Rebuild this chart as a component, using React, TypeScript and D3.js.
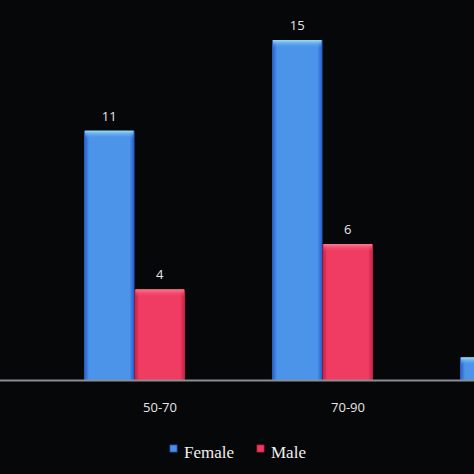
import { useEffect, useRef } from "react";
import * as d3 from "d3";

const categories = ["50-70", "70-90", "90+"];
const seriesNames = ["Female", "Male"];
const female = [11, 15, 1];
const male = [4, 6, 0];
const seriesColors = ["#4a8fe6", "#ee3a5e"];

export default function App() {
  const svgRef = useRef<SVGSVGElement>(null);

  useEffect(() => {
    if (!svgRef.current) return;
    const width = 474;
    const height = 474;
    const svg = d3.select(svgRef.current);
    svg.selectAll("*").remove();
    svg.attr("viewBox", `0 0 ${width} ${height}`);

    svg.append("rect").attr("width", width).attr("height", height).attr("fill", "#060708");

    const defs = svg.append("defs");
    const shades = [
      { edge: "#2458c4", mid: "#4c93ea", top: "#9fe0f2" },
      { edge: "#c21e44", mid: "#f03c62", top: "#ff7a92" },
    ];
    shades.forEach((s, i) => {
      const g = defs.append("linearGradient").attr("id", `side${i}`).attr("x1", 0).attr("x2", 1).attr("y1", 0).attr("y2", 0);
      g.append("stop").attr("offset", "0%").attr("stop-color", s.edge);
      g.append("stop").attr("offset", "10%").attr("stop-color", s.mid);
      g.append("stop").attr("offset", "90%").attr("stop-color", s.mid);
      g.append("stop").attr("offset", "100%").attr("stop-color", s.edge);
      const t = defs.append("linearGradient").attr("id", `top${i}`).attr("x1", 0).attr("x2", 0).attr("y1", 0).attr("y2", 1);
      t.append("stop").attr("offset", "0%").attr("stop-color", s.top);
      t.append("stop").attr("offset", "100%").attr("stop-color", s.mid).attr("stop-opacity", 0);
    });

    const baseline = 380;
    const x = d3.scaleBand().domain(categories).range([66, 66 + 188 * categories.length]).padding(0);
    const inner = d3.scaleBand().domain(seriesNames).range([18, 119]).padding(0);
    const y = d3.scaleLinear().domain([0, 15]).range([baseline, 40]);

    const values = [female, male];

    seriesNames.forEach((name, si) => {
      categories.forEach((cat, ci) => {
        const v = values[si][ci];
        if (!v) return;
        const bx = x(cat)! + inner(name)!;
        const bw = inner.bandwidth();
        const by = y(v);
        const bh = baseline - by;
        svg.append("rect").attr("x", bx).attr("y", by).attr("width", bw).attr("height", bh)
          .attr("fill", `url(#side${si})`);
        svg.append("rect").attr("x", bx + 1).attr("y", by).attr("width", bw - 2).attr("height", Math.min(8, bh))
          .attr("fill", `url(#top${si})`);
        // labels of bars cut off by the picture's right edge are not drawn
        if (bx + bw / 2 + 10 > width) return;
        svg.append("text")
          .attr("x", bx + bw / 2)
          .attr("y", by - 10)
          .attr("text-anchor", "middle")
          .attr("font-family", "'Open Sans', sans-serif")
          .attr("font-size", 13)
          .attr("fill", "#e6e6e6")
          .text(v);
      });
    });

    // axis line
    svg.append("line").attr("x1", 0).attr("x2", width).attr("y1", baseline + 0.5).attr("y2", baseline + 0.5)
      .attr("stroke", "#8a8f94").attr("stroke-width", 2);

    categories.forEach(cat => {
      const cx = x(cat)! + x.bandwidth() / 2;
      if (cx + 20 > width) return;
      svg.append("text")
        .attr("x", cx)
        .attr("y", 412)
        .attr("text-anchor", "middle")
        .attr("font-family", "'Open Sans', sans-serif")
        .attr("font-size", 13)
        .attr("fill", "#e6e6e6")
        .text(cat);
    });

    // legend
    const legendX = [170, 257];
    seriesNames.forEach((name, i) => {
      svg.append("rect").attr("x", legendX[i]).attr("y", 445).attr("width", 7).attr("height", 7)
        .attr("fill", seriesColors[i]).attr("stroke", shades[i].edge).attr("stroke-width", 0.8);
      svg.append("text")
        .attr("x", legendX[i] + 14)
        .attr("y", 458)
        .attr("font-family", "'Liberation Serif', serif")
        .attr("font-size", 17)
        .attr("fill", "#f0f0f0")
        .text(name);
    });
  }, []);

  return (
    <div style={{ position: "fixed", top: 0, left: 0, width: 474, height: 474 }}>
      <svg ref={svgRef} width={474} height={474} style={{ display: "block" }} />
    </div>
  );
}
